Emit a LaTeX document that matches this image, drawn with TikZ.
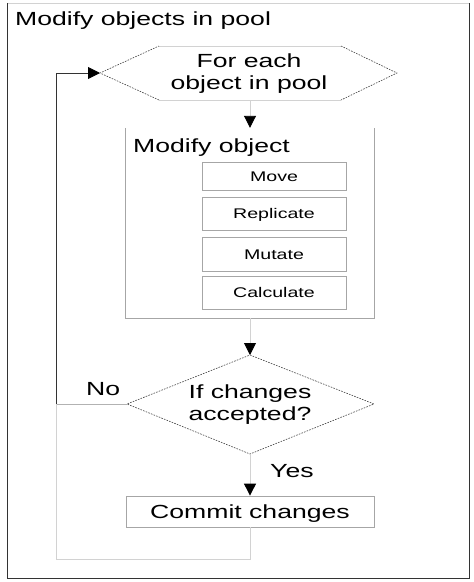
\documentclass[tikz,border=0pt]{standalone}
\usepackage{fontspec}
\setmainfont[FakeStretch=1.4]{Liberation Sans}
\usetikzlibrary{arrows.meta}
\tikzset{
  big/.style={font=\fontsize{19}{22}\selectfont, inner sep=0pt},
  small/.style={font=\fontsize{14}{16}\selectfont, inner sep=0pt},
  subbox/.style={small, draw=gray!70, line width=0.8pt, minimum width=144pt, text height=10pt, text depth=0pt},
  boxline/.style={draw=gray!70, line width=0.8pt},
  dotline/.style={draw=gray!50!black, line width=0.6pt, dash pattern=on 1.6pt off 1.2pt},
  lightline/.style={draw=gray!35, line width=0.8pt},
  conn/.style={draw=gray!35, line width=0.9pt},
  darkconn/.style={draw=gray!40!black, line width=0.9pt},
  tip/.style={-{Triangle[width=12pt,length=12pt,color=black]}}
}
\begin{document}
\begin{tikzpicture}[x=1pt,y=-1pt]
\useasboundingbox (0,0) rectangle (474,582);
% outer frame
\draw[lightline] (7,3) -- (469,3);
\draw[darkconn] (7,3) -- (7,578) -- (469,578) -- (469,3);
\node[big, anchor=base west] (title) at (15,25) {Modify objects in pool};

% hexagon
\coordinate (hexL) at (100,73);
\coordinate (hexR) at (397,73);
\coordinate (hexTL) at (159,46);
\coordinate (hexTR) at (341,46);
\coordinate (hexBL) at (159,100);
\coordinate (hexBR) at (341,100);
\coordinate (hexB) at (250,100);
\draw[lightline] (hexTL) -- (hexTR);
\draw[lightline] (hexBL) -- (hexBR);
\draw[dotline] (hexTR) -- (hexR) -- (hexBR);
\draw[dotline] (hexBL) -- (hexL) -- (hexTL);
\node[big, align=center] (hextext) at (249,74) {For each\\object in pool};

% modify object box
\node[minimum width=248pt, minimum height=190pt, inner sep=0pt] (mod) at (250,223) {};
\draw[boxline] (mod.north west) -- (mod.south west) -- (mod.south east) -- (mod.north east);
\node[big, anchor=base west] (modtitle) at (133,152) {Modify object};
\node[subbox, minimum height=28pt] (move) at (274,176) {Move};
\node[subbox, minimum height=33pt] (repl) at (274,213.5) {Replicate};
\node[subbox, minimum height=34pt] (mut) at (274,254) {Mutate};
\node[subbox, minimum height=33pt] (calc) at (274,292.5) {Calculate};

% diamond
\coordinate (diaT) at (250,355);
\coordinate (diaL) at (127,404);
\coordinate (diaR) at (374,404);
\coordinate (diaB) at (250,454);
\draw[dotline] (diaT) -- (diaR) -- (diaB) -- (diaL) -- cycle;
\node[big, align=center] (diatext) at (250,405) {If changes\\accepted?};

% commit box
\node[big, boxline, minimum width=248pt, minimum height=31pt, text height=14pt, text depth=0pt] (commit) at (250,511.5) {Commit changes};

% labels
\node[big, anchor=base west] (no) at (86,395) {No};
\node[big, anchor=base west] (yes) at (270,477) {Yes};

% connectors
\draw[conn, tip] (hexB) -- (mod.north);
\draw[conn, tip] (mod.south) -- (diaT);
\draw[conn, tip] (diaB) -- (commit.north);
\coordinate (cNo) at (56,404);
\coordinate (cTop) at (56,73);
\coordinate (cBR) at (250,559);
\coordinate (cBL) at (56,559);
\draw[draw=gray!60, line width=0.9pt] (diaL) -- (cNo);
\draw[darkconn, tip] (cNo) -- (cTop) -- (hexL);
\draw[conn] (commit.south) -- (cBR) -- (cBL) -- (cNo);
\end{tikzpicture}
\end{document}
